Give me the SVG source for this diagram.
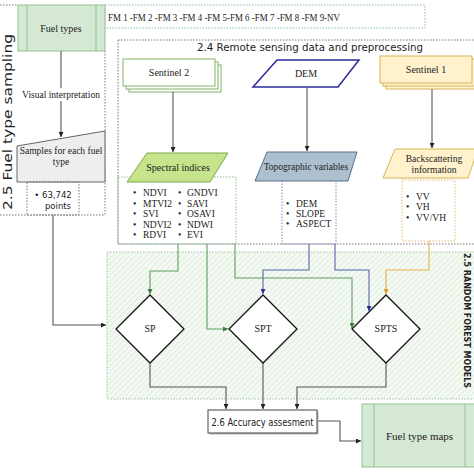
<svg xmlns="http://www.w3.org/2000/svg" width="474" height="474" viewBox="0 0 474 474">
<defs>
<style>
.serif{font-family:"Liberation Serif","DejaVu Serif",serif;fill:#222}
.sans{font-family:"DejaVu Sans","Liberation Sans",sans-serif;fill:#222}
.dotg{fill:none;stroke:#777;stroke-width:1;stroke-dasharray:1.5 1.5}
.dotgr{fill:none;stroke:#8cbf8c;stroke-width:1;stroke-dasharray:1.5 1.5}
.c{fill:none;stroke-width:1.1}
.cg{stroke:#555}
.cgr{stroke:#5f9e5f}
.cb{stroke:#5566aa}
.co{stroke:#e8b04a}
.dia{fill:#fff;stroke:#111;stroke-width:1.3}
</style>
<marker id="aK" viewBox="0 0 6 6" refX="6" refY="3" markerWidth="5" markerHeight="5" orient="auto" markerUnits="userSpaceOnUse"><path d="M0,0 L6,3 L0,6 z" fill="#222"/></marker>
<marker id="aG" viewBox="0 0 6 6" refX="6" refY="3" markerWidth="5" markerHeight="5" orient="auto" markerUnits="userSpaceOnUse"><path d="M0,0 L6,3 L0,6 z" fill="#3d7a3d"/></marker>
<marker id="aB" viewBox="0 0 6 6" refX="6" refY="3" markerWidth="5" markerHeight="5" orient="auto" markerUnits="userSpaceOnUse"><path d="M0,0 L6,3 L0,6 z" fill="#2a2a9a"/></marker>
<marker id="aO" viewBox="0 0 6 6" refX="6" refY="3" markerWidth="5" markerHeight="5" orient="auto" markerUnits="userSpaceOnUse"><path d="M0,0 L6,3 L0,6 z" fill="#d99a2b"/></marker>
<pattern id="hatch" width="4" height="4" patternUnits="userSpaceOnUse" patternTransform="rotate(45)"><rect width="4" height="4" fill="#f4f9f3"/><line x1="0" y1="0" x2="0" y2="4" stroke="#d3e6d1" stroke-width="1.2"/></pattern>
</defs>
<rect width="474" height="474" fill="#fff"/>

<g id="section-fuel-sampling">
<path class="dotg" d="M0,5 H18 M105,51 V215 M0,215 H105"/>
<text class="sans" font-size="12" fill="#333" transform="translate(11.5,210) rotate(-90)" textLength="176" lengthAdjust="spacingAndGlyphs">2.5 Fuel type sampling</text>
</g>

<g id="section-remote-sensing">
<path class="dotg" d="M118,40 H474 M118,40 V244 M118,244 H474"/>
<text class="sans" font-size="11" x="310" y="51" text-anchor="middle" textLength="226" lengthAdjust="spacingAndGlyphs">2.4 Remote sensing data and preprocessing</text>
</g>

<g id="section-random-forest">
<rect x="107" y="252" width="370" height="147" fill="url(#hatch)" stroke="#9cc89c" stroke-width="1" stroke-dasharray="1.5 1.5"/>
<text class="sans" font-size="8.5" font-weight="bold" transform="translate(464,253) rotate(90)" textLength="135" lengthAdjust="spacingAndGlyphs">2.5 RANDOM FOREST MODELS</text>
</g>

<g id="fm-list">
<rect class="dotgr" x="105" y="5" width="320" height="23"/>
<text class="serif" font-size="9.5" x="108" y="21" textLength="232" lengthAdjust="spacingAndGlyphs">FM 1 -FM 2 -FM 3 -FM 4 -FM 5-FM 6 -FM 7 -FM 8 -FM 9-NV</text>
</g>

<g id="fuel-types">
<rect x="18" y="5" width="87" height="46" fill="#d5e8d4" stroke="#8fc38f" stroke-width="1"/>
<path d="M27,5 V51 M96,5 V51" stroke="#8fc38f" stroke-width="1"/>
<text class="serif" font-size="10" x="61" y="32" text-anchor="middle">Fuel types</text>
</g>

<g id="samples">
<path d="M17,146 L105,131 L105,182 L17,182 Z" fill="#eeeeee" stroke="#666" stroke-width="1"/>
<text class="serif" font-size="9.5" x="61" y="154" text-anchor="middle">Samples for each fuel</text>
<text class="serif" font-size="9.5" x="61" y="165" text-anchor="middle">type</text>
</g>

<g id="points">
<rect class="dotg" x="27" y="182" width="52" height="33"/>
<text class="sans" font-size="8.5" x="53" y="198" text-anchor="middle">• 63,742</text>
<text class="sans" font-size="8.5" x="58" y="209" text-anchor="middle">points</text>
</g>

<g id="sentinel2">
<rect x="129" y="65" width="92" height="27" fill="#fff" stroke="#82b366" stroke-width="1"/>
<rect x="126" y="62" width="92" height="27" fill="#fff" stroke="#82b366" stroke-width="1"/>
<rect x="123" y="59" width="92" height="27" fill="#fff" stroke="#82b366" stroke-width="1"/>
<text class="serif" font-size="10" x="169" y="76" text-anchor="middle">Sentinel 2</text>
</g>

<g id="dem">
<path d="M277,60 L359,60 L338,87 L253,87 Z" fill="#fff" stroke="#2a2a9a" stroke-width="1.5"/>
<text class="serif" font-size="10" x="306" y="77" text-anchor="middle">DEM</text>
</g>

<g id="sentinel1">
<rect x="386" y="62" width="92" height="27" fill="#fff2cc" stroke="#d6b656" stroke-width="1"/>
<rect x="383" y="59" width="92" height="27" fill="#fff2cc" stroke="#d6b656" stroke-width="1"/>
<rect x="380" y="56" width="92" height="27" fill="#fff2cc" stroke="#d6b656" stroke-width="1"/>
<text class="serif" font-size="10" x="426" y="73" text-anchor="middle">Sentinel 1</text>
</g>

<g id="spectral-list">
<rect class="dotgr" x="118" y="177" width="118" height="67"/>
<g class="serif" font-size="9.5">
<text x="133" y="196">•</text><text x="143" y="196">NDVI</text>
<text x="133" y="206.5">•</text><text x="143" y="206.5">MTVI2</text>
<text x="133" y="217">•</text><text x="143" y="217">SVI</text>
<text x="133" y="227.5">•</text><text x="143" y="227.5">NDVI2</text>
<text x="133" y="238">•</text><text x="143" y="238">RDVI</text>
<text x="178" y="196">•</text><text x="187" y="196">GNDVI</text>
<text x="178" y="206.5">•</text><text x="187" y="206.5">SAVI</text>
<text x="178" y="217">•</text><text x="187" y="217">OSAVI</text>
<text x="178" y="227.5">•</text><text x="187" y="227.5">NDWI</text>
<text x="178" y="238">•</text><text x="187" y="238">EVI</text>
</g>
</g>

<g id="topo-list">
<rect x="282" y="180" width="54" height="64" fill="none" stroke="#8888c4" stroke-width="1" stroke-dasharray="1.5 1.5"/>
<g class="serif" font-size="9.5">
<text x="286" y="207">•</text><text x="296" y="207">DEM</text>
<text x="286" y="217">•</text><text x="296" y="217">SLOPE</text>
<text x="286" y="227">•</text><text x="296" y="227">ASPECT</text>
</g>
</g>

<g id="backscatter-list">
<rect x="402" y="180" width="53" height="61" fill="none" stroke="#e6b878" stroke-width="1" stroke-dasharray="1.5 1.5"/>
<g class="serif" font-size="9.5">
<text x="406" y="200">•</text><text x="416" y="200">VV</text>
<text x="406" y="210">•</text><text x="416" y="210">VH</text>
<text x="406" y="221">•</text><text x="416" y="221">VV/VH</text>
</g>
</g>

<g id="spectral-indices">
<path d="M147,153 L228,153 L210,182 L127,182 Z" fill="#c5e48c" stroke="#7aa84a" stroke-width="1"/>
<text class="serif" font-size="10" x="178" y="171" text-anchor="middle">Spectral indices</text>
</g>

<g id="topographic">
<path d="M267,152 L357,152 L348,181 L255,181 Z" fill="#adc0cf" stroke="#5a7088" stroke-width="1"/>
<text class="serif" font-size="9.5" x="306" y="170" text-anchor="middle">Topographic variables</text>
</g>

<g id="backscattering">
<path d="M395,149 L478,149 L468,178 L383,178 Z" fill="#fff2cc" stroke="#d6b656" stroke-width="1"/>
<text class="serif" font-size="9.5" x="434" y="162" text-anchor="middle">Backscattering</text>
<text class="serif" font-size="9.5" x="434" y="173" text-anchor="middle">information</text>
</g>

<g id="connectors">
<path class="c cg" d="M61,51 V137" marker-end="url(#aK)"/>
<rect x="22" y="88" width="79" height="13" fill="#fff"/>
<text class="serif" font-size="9.5" x="61" y="98" text-anchor="middle">Visual interpretation</text>
<path class="c cg" d="M53,215 V325 H106" marker-end="url(#aK)"/>
<path class="c cg" d="M173,92 V152" marker-end="url(#aK)"/>
<path class="c cg" d="M307,88 V151" marker-end="url(#aK)"/>
<path class="c cg" d="M432,89 V148" marker-end="url(#aK)"/>
<path class="c cgr" d="M178,244 V271 H150 V294" marker-end="url(#aG)"/>
<path class="c cgr" d="M207,244 V329 H228" marker-end="url(#aG)"/>
<path class="c cgr" d="M235,244 V278 H352 V328" marker-end="url(#aG)"/>
<path class="c cb" d="M309,244 V270 H263 V294" marker-end="url(#aB)"/>
<path class="c cb" d="M335,244 V270 H369 V311" marker-end="url(#aB)"/>
<path class="c co" d="M429,241 V270 H386 V294" marker-end="url(#aO)"/>
<path class="c cg" d="M150,363 V387 H226 V409" marker-end="url(#aK)"/>
<path class="c cg" d="M263,363 V409" marker-end="url(#aK)"/>
<path class="c cg" d="M386,363 V387 H297 V409" marker-end="url(#aK)"/>
<path class="c cg" d="M317,421 H340 V441 H361" marker-end="url(#aK)"/>
</g>

<g id="sp">
<path class="dia" d="M150,295 L184,329 L150,363 L116,329 Z"/>
<text class="serif" font-size="10" x="150" y="332" text-anchor="middle">SP</text>
</g>
<g id="spt">
<path class="dia" d="M263,295 L297,329 L263,363 L229,329 Z"/>
<text class="serif" font-size="10" x="263" y="332" text-anchor="middle">SPT</text>
</g>
<g id="spts">
<path class="dia" d="M386,295 L420,329 L386,363 L352,329 Z"/>
<text class="serif" font-size="10" x="386" y="332" text-anchor="middle">SPTS</text>
</g>

<g id="accuracy">
<rect x="209.5" y="411.5" width="109" height="23" fill="#bbb"/>
<rect x="208" y="410" width="109" height="23" fill="#fff" stroke="#444" stroke-width="1"/>
<text class="sans" font-size="10.5" x="262.5" y="425.5" text-anchor="middle" textLength="102" lengthAdjust="spacingAndGlyphs">2.6 Accuracy assesment</text>
</g>

<g id="fuel-type-maps">
<rect x="362" y="404" width="116" height="63" fill="#d5e8d4" stroke="#8fc38f" stroke-width="1"/>
<path d="M374,404 V467 M465,404 V467" stroke="#8fc38f" stroke-width="1"/>
<text class="serif" font-size="11" x="419.5" y="440" text-anchor="middle">Fuel type maps</text>
</g>
</svg>
